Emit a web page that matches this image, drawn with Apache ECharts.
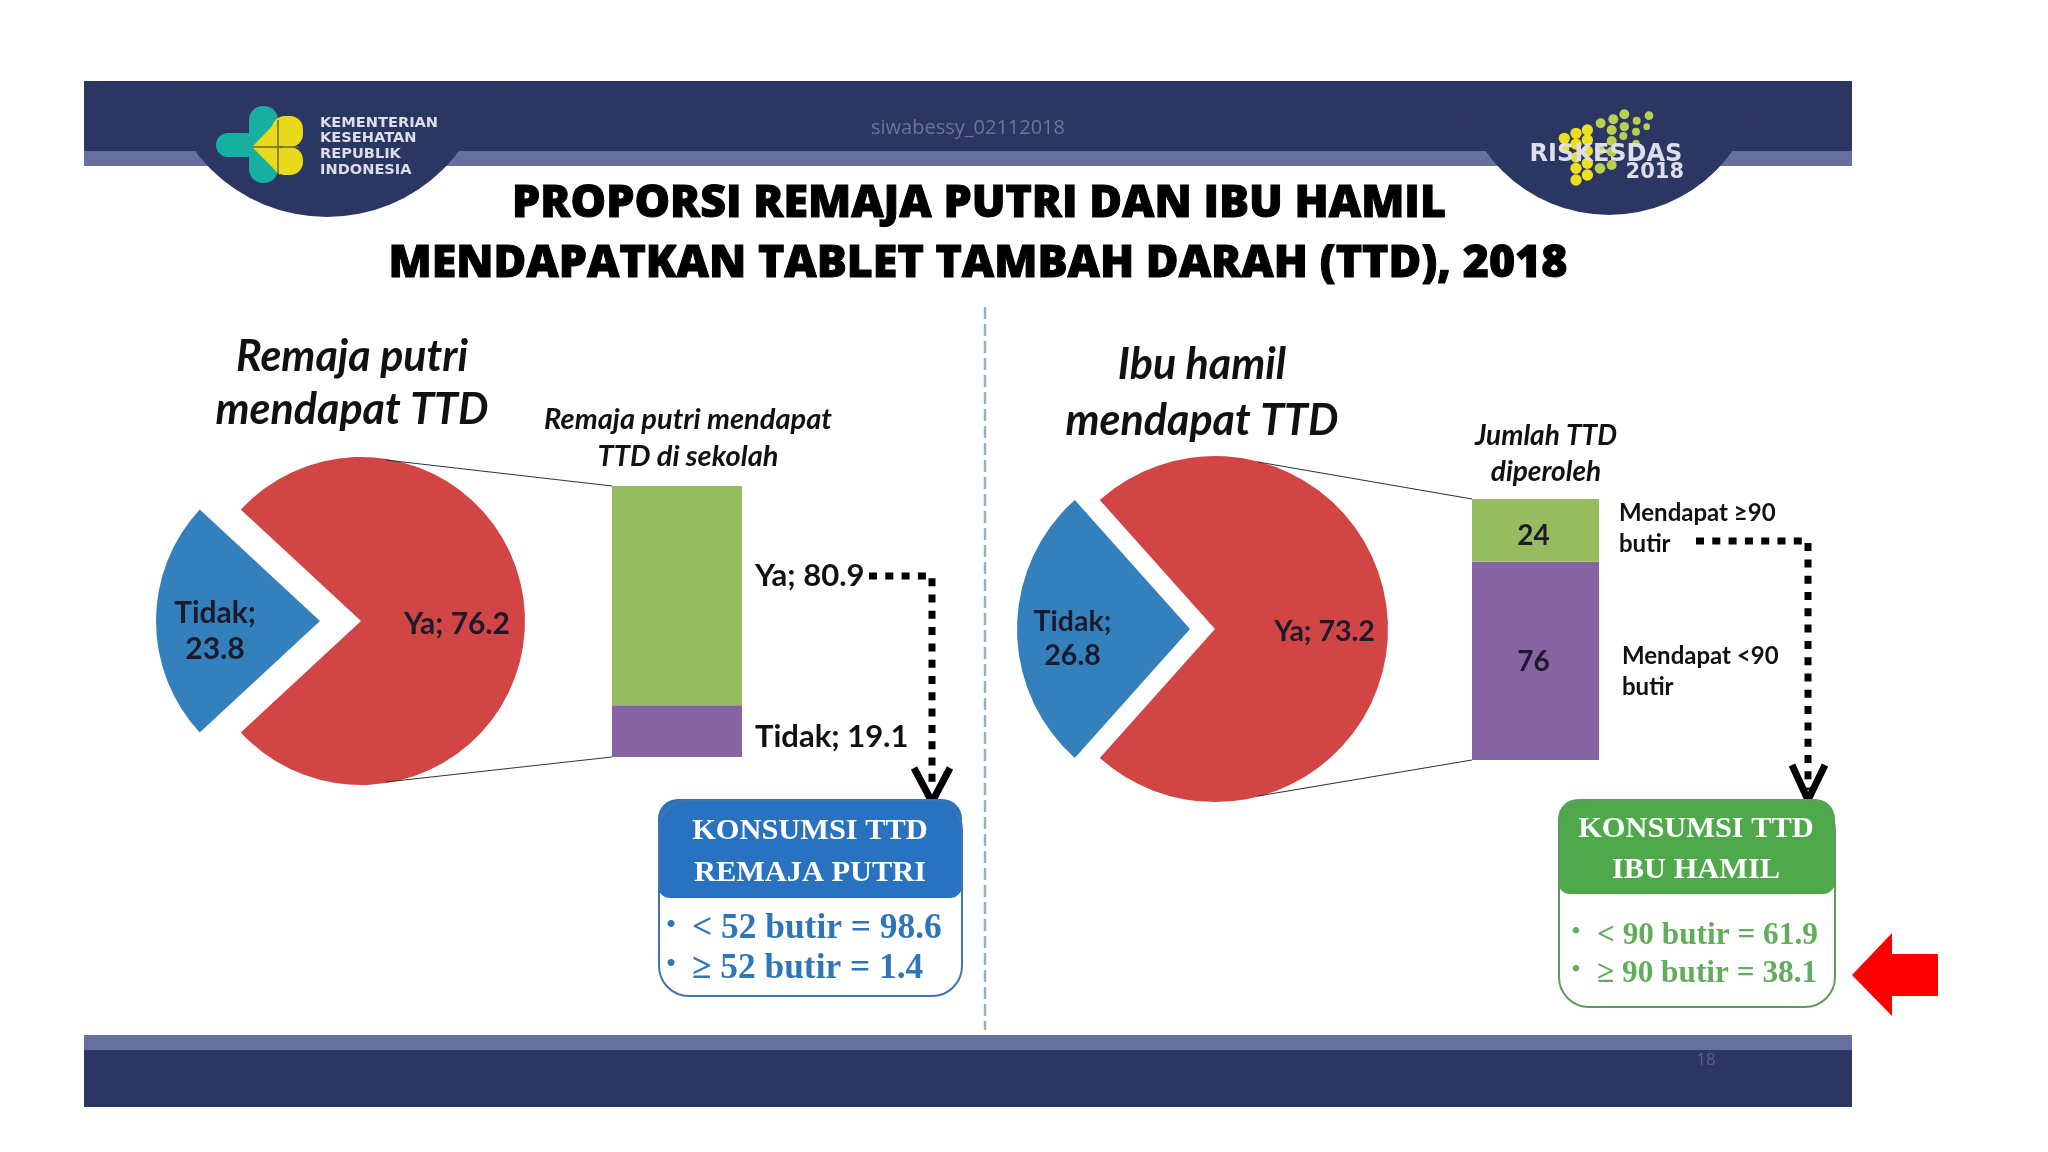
<!DOCTYPE html>
<html lang="id" style="height: 100%">
<head>
    <meta charset="utf-8">
    <title>Proporsi remaja putri dan ibu hamil mendapatkan TTD, 2018</title>
    <script src="https://cdn.jsdelivr.net/npm/echarts@6/dist/echarts.min.js"></script>
</head>
<body style="height: 100%; margin: 0; background: #fff">
<div id="container" style="width: 2048px; height: 1152px"></div>
<script type="text/javascript">
    // data
    var pieNames = ['Ya', 'Tidak'];
    var remajaPie = [76.2, 23.8];
    var ibuPie = [73.2, 26.8];
    var remajaBarNames = ['Ya', 'Tidak'];
    var remajaBar = [80.9, 19.1];
    var ibuBarNames = ['Mendapat ≥90 butir', 'Mendapat <90 butir'];
    var ibuBar = [24, 76];

    var NAVY = '#2c3663', BAND = '#656fa0', RED = '#d14545', BLUE = '#3380bd', GREEN = '#97bb5f', PURPLE = '#8663a3';
    var SANS = 'Lato, sans-serif', SERIF = '"Liberation Serif", serif';
    var INK = '#1b1b2b';

    function txt(s, x, y, size, opt) {
      opt = opt || {};
      return {
        type: 'text', z: opt.z || 5, x: x, y: y,
        style: {
          text: s, fill: opt.fill || '#111', align: opt.align || 'center', verticalAlign: 'middle',
          stroke: opt.stroke || null, lineWidth: opt.stroke ? 1 : 0,
          font: (opt.style || 'normal') + ' ' + (opt.weight || 'bold') + ' ' + size + 'px ' + (opt.family || SANS)
        }
      };
    }
    function rect(x, y, w, h, fill, z, r) {
      return { type: 'rect', z: z || 1, shape: { x: x, y: y, width: w, height: h, r: r || 0 }, style: { fill: fill } };
    }
    function poly(points, stroke, width, dash, z) {
      return { type: 'polyline', z: z || 4, shape: { points: points },
        style: { stroke: stroke, lineWidth: width, fill: null, lineDash: dash || null } };
    }
    function circle(cx, cy, r, fill, z) {
      return { type: 'circle', z: z || 2, shape: { cx: cx, cy: cy, r: r }, style: { fill: fill } };
    }

    // header and footer of the slide
    var slide = [
      rect(84, 81, 1768, 70, NAVY),
      rect(84, 151, 1768, 15, BAND),
      rect(84, 1035, 1768, 15, BAND),
      rect(84, 1050, 1768, 57, NAVY),
      { type: 'circle', z: 2, shape: { cx: 327, cy: 52, r: 165 }, style: { fill: NAVY } },
      { type: 'circle', z: 2, shape: { cx: 1609, cy: 64, r: 151 }, style: { fill: NAVY } },
      rect(0, 0, 2048, 81, '#fff', 3),
      txt('siwabessy_02112018', 968, 128, 20, { weight: 'normal', fill: '#6d7494', family: '"Open Sans", sans-serif' }),
      txt('18', 1706, 1060, 17, { weight: 'normal', fill: '#5a6288', family: '"Open Sans", sans-serif' }),
      // kemenkes logo
      rect(216, 133, 42, 24, '#17b0a0', 4, 12),
      rect(249, 106, 29, 77, '#17b0a0', 4, 14),
      { type: 'polygon', z: 5, shape: { points: [[252, 147], [280, 118], [280, 175]] }, style: { fill: '#e8d91a' } },
      rect(272, 116, 31, 31, '#e8d91a', 4, 13),
      rect(272, 147, 31, 28, '#e8d91a', 4, 13),
      poly([[252, 147], [299, 147]], '#6d6a2a', 1.5, null, 6),
      poly([[278, 120], [278, 174]], '#6d6a2a', 1.5, null, 6),
      txt('KEMENTERIAN', 320, 123, 14.6, { align: 'left', fill: '#dcdeea', family: '"DejaVu Sans", sans-serif' }),
      txt('KESEHATAN', 320, 138, 14.6, { align: 'left', fill: '#dcdeea', family: '"DejaVu Sans", sans-serif' }),
      txt('REPUBLIK', 320, 154, 14.6, { align: 'left', fill: '#dcdeea', family: '"DejaVu Sans", sans-serif' }),
      txt('INDONESIA', 320, 170, 14.6, { align: 'left', fill: '#dcdeea', family: '"DejaVu Sans", sans-serif' }),
      // titles
      txt('PROPORSI REMAJA PUTRI DAN IBU HAMIL', 979, 204, 44.7, { family: '"Open Sans", sans-serif', weight: 800, fill: '#000', stroke: '#000' }),
      txt('MENDAPATKAN TABLET TAMBAH DARAH (TTD), 2018', 978, 264, 44.7, { family: '"Open Sans", sans-serif', weight: 800, fill: '#000', stroke: '#000' }),
      // divider
      poly([[985, 307], [985, 1030]], '#8fb3c4', 2.5, [12, 5]),
      // left panel text
      txt('Remaja putri', 352, 357, 43, { style: 'italic' }),
      txt('mendapat TTD', 352, 410, 43, { style: 'italic' }),
      txt('Remaja putri mendapat', 688, 420, 29, { style: 'italic' }),
      txt('TTD di sekolah', 688, 457, 29, { style: 'italic' }),
      // right panel text
      txt('Ibu hamil', 1202, 365, 43, { style: 'italic' }),
      txt('mendapat TTD', 1202, 421, 43, { style: 'italic' }),
      txt('Jumlah TTD', 1546, 436, 28, { style: 'italic' }),
      txt('diperoleh', 1546, 472, 28, { style: 'italic' }),
      txt('Mendapat ≥90', 1619, 513, 24, { align: 'left' }),
      txt('butir', 1619, 544, 24, { align: 'left' }),
      txt('Mendapat <90', 1622, 656, 24, { align: 'left' }),
      txt('butir', 1622, 687, 24, { align: 'left' }),
      // connectors from the pies to the bars
      poly([[386, 460], [612, 486]], '#333', 1.2),
      poly([[386, 782], [612, 757]], '#333', 1.2),
      poly([[1258, 462], [1472, 499]], '#333', 1.2),
      poly([[1258, 796], [1472, 760]], '#333', 1.2),
      // dotted arrows
      poly([[869, 576], [932, 576], [932, 790]], '#000', 7, [8, 8.3]),
      poly([[914, 768], [932, 802], [950, 768]], '#000', 7),
      poly([[1696, 541], [1808, 541], [1808, 790]], '#000', 7, [8, 8.3]),
      poly([[1792, 765], [1808, 800], [1825, 765]], '#000', 7),
      // blue box
      rect(659, 800, 303, 196, '#fff', 6, 30),
      { type: 'rect', z: 8, shape: { x: 659, y: 800, width: 303, height: 196, r: 30 }, style: { fill: null, stroke: '#3f74b4', lineWidth: 2 } },
      rect(658, 799, 304, 99, '#2872c0', 7, [20, 20, 12, 12]),
      txt('KONSUMSI TTD', 810, 831, 30.4, { family: SERIF, fill: '#fff', z: 9 }),
      txt('REMAJA PUTRI', 810, 873, 30.4, { family: SERIF, fill: '#fff', z: 9 }),
      txt('•', 671, 925, 26, { family: SERIF, fill: '#2f76b8', z: 9 }),
      txt('< 52 butir = 98.6', 692, 929, 35.4, { family: SERIF, fill: '#2f76b8', align: 'left', z: 9 }),
      txt('•', 671, 964, 26, { family: SERIF, fill: '#2f76b8', z: 9 }),
      txt('≥ 52 butir = 1.4', 692, 969, 35.4, { family: SERIF, fill: '#2f76b8', align: 'left', z: 9 }),
      // green box
      rect(1559, 800, 276, 207, '#fff', 6, 30),
      { type: 'rect', z: 8, shape: { x: 1559, y: 800, width: 276, height: 207, r: 30 }, style: { fill: null, stroke: '#5f9c5a', lineWidth: 2 } },
      rect(1558, 799, 277, 95, '#4fa84a', 7, [20, 20, 12, 12]),
      txt('KONSUMSI TTD', 1696, 829, 30.4, { family: SERIF, fill: '#fff', z: 9 }),
      txt('IBU HAMIL', 1696, 870, 30.4, { family: SERIF, fill: '#fff', z: 9 }),
      txt('•', 1576, 932, 24, { family: SERIF, fill: '#62ad5c', z: 9 }),
      txt('< 90 butir = 61.9', 1597, 936, 31.3, { family: SERIF, fill: '#62ad5c', align: 'left', z: 9 }),
      txt('•', 1576, 970, 24, { family: SERIF, fill: '#62ad5c', z: 9 }),
      txt('≥ 90 butir = 38.1', 1597, 974, 31.3, { family: SERIF, fill: '#62ad5c', align: 'left', z: 9 }),
      // red pointer
      { type: 'polygon', z: 5, shape: { points: [[1852, 975], [1892, 933], [1892, 954], [1938, 954], [1938, 996], [1892, 996], [1892, 1016]] }, style: { fill: '#ff0000' } }
    ];

    // riskesdas logo: dots first, wordmark over them
    var logoDots = [[463,103,9],[537,107,7],[430,118,9],[500,122,6],[392,130,9],[463,140,8],[530,140,4],[352,150,11],[425,150,9],
      [498,155,6],[318,160,11],[283,175,11],[352,180,11],[425,183,9],[460,168,6],[318,192,11],[283,205,9],[352,213,11],[390,210,9],
      [425,215,9],[498,190,5],[318,232,10],[352,250,11],[390,265,10],[425,255,9],[318,265,11],[352,285,11],[318,300,11]];
    logoDots.forEach(function (d) {
      slide.push(circle(1470 + d[0] / 3, 80 + d[1] / 3, d[2] / 3 + 2, d[0] > 380 ? '#b9cf52' : '#ecdf22', 4));
    });
    slide.push(txt('RISKESDAS', 1606, 155, 24, { fill: '#dcdeea', family: '"DejaVu Sans", sans-serif', z: 6 }));
    slide.push(txt('2018', 1684, 173, 21, { fill: '#dcdeea', align: 'right', family: '"DejaVu Sans", sans-serif', z: 6 }));

    function pieSeries(values, center, radius, offset, size, shifts) {
      return {
        type: 'pie', center: center, radius: radius,
        startAngle: 180 - values[1] / (values[0] + values[1]) * 180,
        selectedMode: 'single', selectedOffset: offset, silent: true, z: 3,
        label: {
          position: 'inside', fontFamily: SANS, fontWeight: 'bold', fontSize: size, color: INK, lineHeight: size * 1.2, align: 'center',
          formatter: function (p) { return p.dataIndex === 1 ? p.name + ';\n' + p.value : p.name + '; ' + p.value; }
        },
        labelLine: { show: false },
        labelLayout: function (p) { return { dx: shifts[p.dataIndex][0], dy: shifts[p.dataIndex][1] }; },
        data: [
          { name: pieNames[0], value: values[0], itemStyle: { color: RED } },
          { name: pieNames[1], value: values[1], selected: true, itemStyle: { color: BLUE } }
        ]
      };
    }

    function barSeries(name, value, axis, color, label) {
      return {
        type: 'bar', name: name, stack: 'bar' + axis, xAxisIndex: axis, yAxisIndex: axis, barWidth: '100%', silent: true,
        itemStyle: { color: color }, label: label, data: [value]
      };
    }

    function outside(dy) {
      return { show: true, position: 'right', distance: 13, offset: [0, dy], fontFamily: SANS, fontWeight: 'bold', fontSize: 31, color: '#111',
        formatter: function (p) { return p.seriesName + '; ' + p.value; } };
    }
    function inside(dx, dy) {
      return { show: true, position: 'inside', offset: [dx, dy], fontFamily: SANS, fontWeight: 'bold', fontSize: 28, color: INK };
    }

    var grid = [
      { left: 612, top: 486, width: 130, height: 271 },
      { left: 1472, top: 499, width: 127, height: 261 }
    ];
    var hiddenX = function (i) { return { type: 'category', gridIndex: i, data: [''], show: false }; };
    var hiddenY = function (i) { return { type: 'value', gridIndex: i, min: 0, max: 100, show: false }; };

    var myChart = echarts.init(document.getElementById('container'));
    myChart.setOption({
      animation: false,
      backgroundColor: '#fff',
      tooltip: { show: false },
      grid: grid,
      xAxis: [hiddenX(0), hiddenX(1)],
      yAxis: [hiddenY(0), hiddenY(1)],
      graphic: slide,
      series: [
        pieSeries(remajaPie, [361, 621], [0, 164], 41, 30, [[11, 3], [-20, 10]]),
        pieSeries(ibuPie, [1215, 629], [0, 173], 25, 28.5, [[20, 3], [-28, 10]]),
        barSeries(remajaBarNames[1], remajaBar[1], 0, PURPLE, outside(6)),
        barSeries(remajaBarNames[0], remajaBar[0], 0, GREEN, outside(-20)),
        barSeries(ibuBarNames[1], ibuBar[1], 1, PURPLE, inside(-2, 1)),
        barSeries(ibuBarNames[0], ibuBar[0], 1, GREEN, inside(-2, 6))
      ]
    });
</script>
</body>
</html>
